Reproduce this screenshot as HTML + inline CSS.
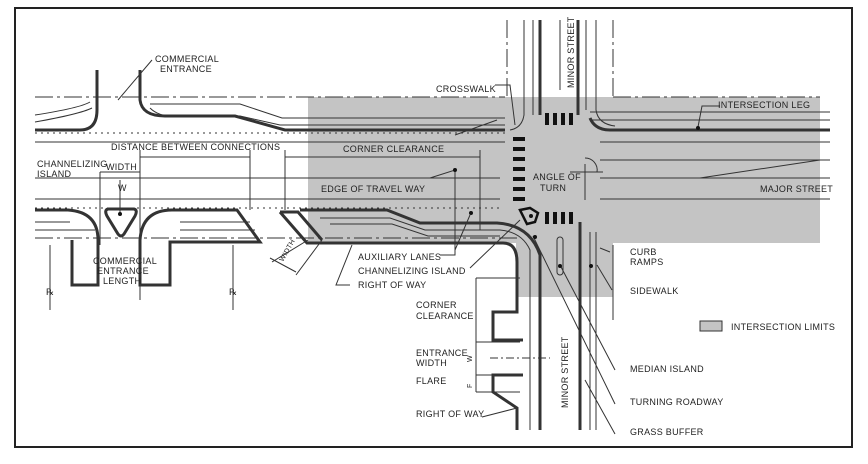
<!DOCTYPE html>
<html><head><meta charset="utf-8"><style>
html,body{margin:0;padding:0;background:#fff}
svg{display:block}
text{font-family:"Liberation Sans",sans-serif;font-size:9px;fill:#222;letter-spacing:0.3px}
</style></head><body>
<svg width="868" height="464" viewBox="0 0 868 464" xmlns="http://www.w3.org/2000/svg">
<rect x="0" y="0" width="868" height="464" fill="#fff"/>
<path d="M308 97 H820 V243 H613 V297 H516 V243 H308 Z" fill="#c4c4c4"/>
<rect x="15" y="8" width="837" height="439" fill="none" stroke="#222" stroke-width="2"/>
<g stroke="#333" fill="none" stroke-width="1">
<path d="M35 97 H505 M613 97 H820" stroke-dasharray="18 4 3 4"/>
<path d="M35 115 Q80 108 90 102 M35 122 Q80 114 92 108"/>
<path d="M150 108 Q160 118 180 116 H240 L280 125 H505 M150 104 H240 L282 118 H505"/>
<path d="M590 112 H830 M590 120 H830"/>
<path d="M35 130 H80 Q97 130 97 110 V70" stroke-width="3"/>
<path d="M140 70 V100 Q142 116 165 116 H235 L285 130 H505" stroke-width="3"/>
<path d="M590 118 Q595 130 610 130 H830" stroke-width="3"/>
<path d="M35 133 H505" stroke-dasharray="2 4"/>
<path d="M35 142 H505 M600 142 H830"/>
<path d="M35 178 H500 M600 160 H830 M600 178 H830 M600 199 H830"/>
<path d="M35 199 H500"/>
<path d="M700 178 L820 160"/>
<path d="M35 208 H500" stroke-dasharray="2 4"/>
<path d="M35 222 H70 M35 230 H95 M180 222 H250 M180 230 H255"/>
<path d="M35 210 H68 Q98 212 98 240 V285 H72 V240" stroke-width="3"/>
<path d="M108 209 H134 Q138 210 135 216 L124 234 Q121 238 118 234 L107 216 Q104 210 108 209 Z" stroke-width="3"/>
<path d="M143 285 H140 V240 Q142 210 172 210 H237 L260 242 H170 V285 H143" stroke-width="3"/>
<path d="M35 238 H520" stroke-dasharray="18 4 3 4"/>
<path d="M280 212 H298 L322 240" stroke-width="3"/>
<path d="M280 212 L307 243 H503 Q517 243 517 262 V312 H493 V340 H523" stroke-width="3"/>
<path d="M300 210 H387 L420 223 H497 Q530 225 540 255 V430" stroke-width="3"/>
<path d="M523 375 H493 V392 L517 408 V430" stroke-width="3"/>
<path d="M320 218 H390 L425 230 H500 Q522 232 530 250 V430 M330 224 H392 L428 236 H500"/>
<path d="M140 157 H250 M250 150 V210 M140 150 V300"/>
<path d="M285 157 H480 M285 150 V210 M480 150 V230"/>
<path d="M100 172 H140 M100 172 V245 M120 180 V215"/>
<path d="M50 245 V310 M233 245 V310"/>
<path d="M308 240 L272 262 M322 240 L296 275 M270 258 L296 272"/>
<path d="M507 20 V97 M613 20 V97" stroke-dasharray="18 4 3 4"/>
<path d="M524 20 V115 Q522 128 510 130 M533 20 V115 M560 20 V90 M586 20 V110 M596 20 V110 Q598 124 615 126"/>
<path d="M540 20 V115 M578 20 V115" stroke-width="3"/>
<path d="M580 222 V430" stroke-width="3"/>
<path d="M590 232 V430 M596 232 V430 M613 245 V320"/>
<path d="M476 278 H520 M476 278 V392 M476 342 H520 M476 375 H520 M476 392 H520"/>
<path d="M490 358 H550" stroke-dasharray="8 3 2 3"/>
<rect x="557" y="237" width="6" height="38" rx="3"/>
<path d="M152 60 L118 100 M455 135 L497 120 M495 85 L510 85 L515 125"/>
<path d="M720 106 L702 106 L698 127 M430 178 L455 170 L455 255 L440 255 M470 215 L455 250 M520 220 L470 268 M350 285 L336 285 L352 245"/>
<path d="M600 248 L610 252 M597 265 L612 290 M560 265 L615 370 M533 236 L615 404 M585 380 L615 434 M482 417 L517 408"/>
<path d="M585 164 V200 M570 172 H603 M585 158 A12 12 0 0 1 597 172"/>
</g>
<g fill="#111">
<rect x="513" y="137" width="12" height="4"/><rect x="513" y="147" width="12" height="4"/><rect x="513" y="157" width="12" height="4"/><rect x="513" y="167" width="12" height="4"/><rect x="513" y="177" width="12" height="4"/><rect x="513" y="187" width="12" height="4"/><rect x="513" y="197" width="12" height="4"/>
<rect x="545" y="113" width="4" height="12"/><rect x="553" y="113" width="4" height="12"/><rect x="561" y="113" width="4" height="12"/><rect x="569" y="113" width="4" height="12"/>
<rect x="545" y="212" width="4" height="12"/><rect x="553" y="212" width="4" height="12"/><rect x="561" y="212" width="4" height="12"/><rect x="569" y="212" width="4" height="12"/>
<path d="M520 210 L530 208 L538 213 L535 222 L527 224 Z" fill="none" stroke="#111" stroke-width="2.5"/>
<circle cx="455" cy="170" r="2"/><circle cx="471" cy="213" r="2"/><circle cx="531" cy="216" r="2"/><circle cx="698" cy="128" r="2"/><circle cx="535" cy="237" r="2"/><circle cx="560" cy="266" r="2"/><circle cx="591" cy="266" r="2"/><circle cx="120" cy="214" r="2"/>
</g>
<rect x="700" y="321" width="22" height="10" fill="#c4c4c4" stroke="#333"/>
<text x="155" y="62">COMMERCIAL</text><text x="160" y="72">ENTRANCE</text>
<text x="111" y="150">DISTANCE BETWEEN CONNECTIONS</text>
<text x="343" y="152">CORNER CLEARANCE</text>
<text x="321" y="192">EDGE OF TRAVEL WAY</text>
<text x="37" y="167">CHANNELIZING</text><text x="37" y="177">ISLAND</text>
<text x="106" y="170">WIDTH</text><text x="118" y="191">W</text>
<text x="93" y="264">COMMERCIAL</text><text x="97" y="274">ENTRANCE</text><text x="103" y="284">LENGTH</text>
<text x="46" y="295">℞</text><text x="229" y="295">℞</text>
<text x="358" y="260">AUXILIARY LANES</text>
<text x="358" y="274">CHANNELIZING ISLAND</text>
<text x="358" y="288">RIGHT OF WAY</text>
<text x="416" y="308">CORNER</text><text x="416" y="319">CLEARANCE</text>
<text x="416" y="356">ENTRANCE</text><text x="416" y="366">WIDTH</text>
<text x="416" y="384">FLARE</text>
<text x="416" y="417">RIGHT OF WAY</text>
<text x="436" y="92">CROSSWALK</text>
<text x="718" y="108">INTERSECTION LEG</text>
<text x="533" y="180">ANGLE OF</text><text x="540" y="191">TURN</text>
<text x="760" y="192">MAJOR STREET</text>
<text x="630" y="255">CURB</text><text x="630" y="265">RAMPS</text>
<text x="630" y="294">SIDEWALK</text>
<text x="731" y="330">INTERSECTION LIMITS</text>
<text x="630" y="372">MEDIAN ISLAND</text>
<text x="630" y="405">TURNING ROADWAY</text>
<text x="630" y="435">GRASS BUFFER</text>
<text transform="translate(574,88) rotate(-90)">MINOR STREET</text>
<text transform="translate(568,408) rotate(-90)">MINOR STREET</text>
<text transform="translate(283,262) rotate(-60)" style="font-size:7px">WIDTH</text>
<text transform="translate(472,362) rotate(-90)" style="font-size:7px">W</text>
<text transform="translate(472,388) rotate(-90)" style="font-size:7px">F</text>
</svg>
</body></html>
